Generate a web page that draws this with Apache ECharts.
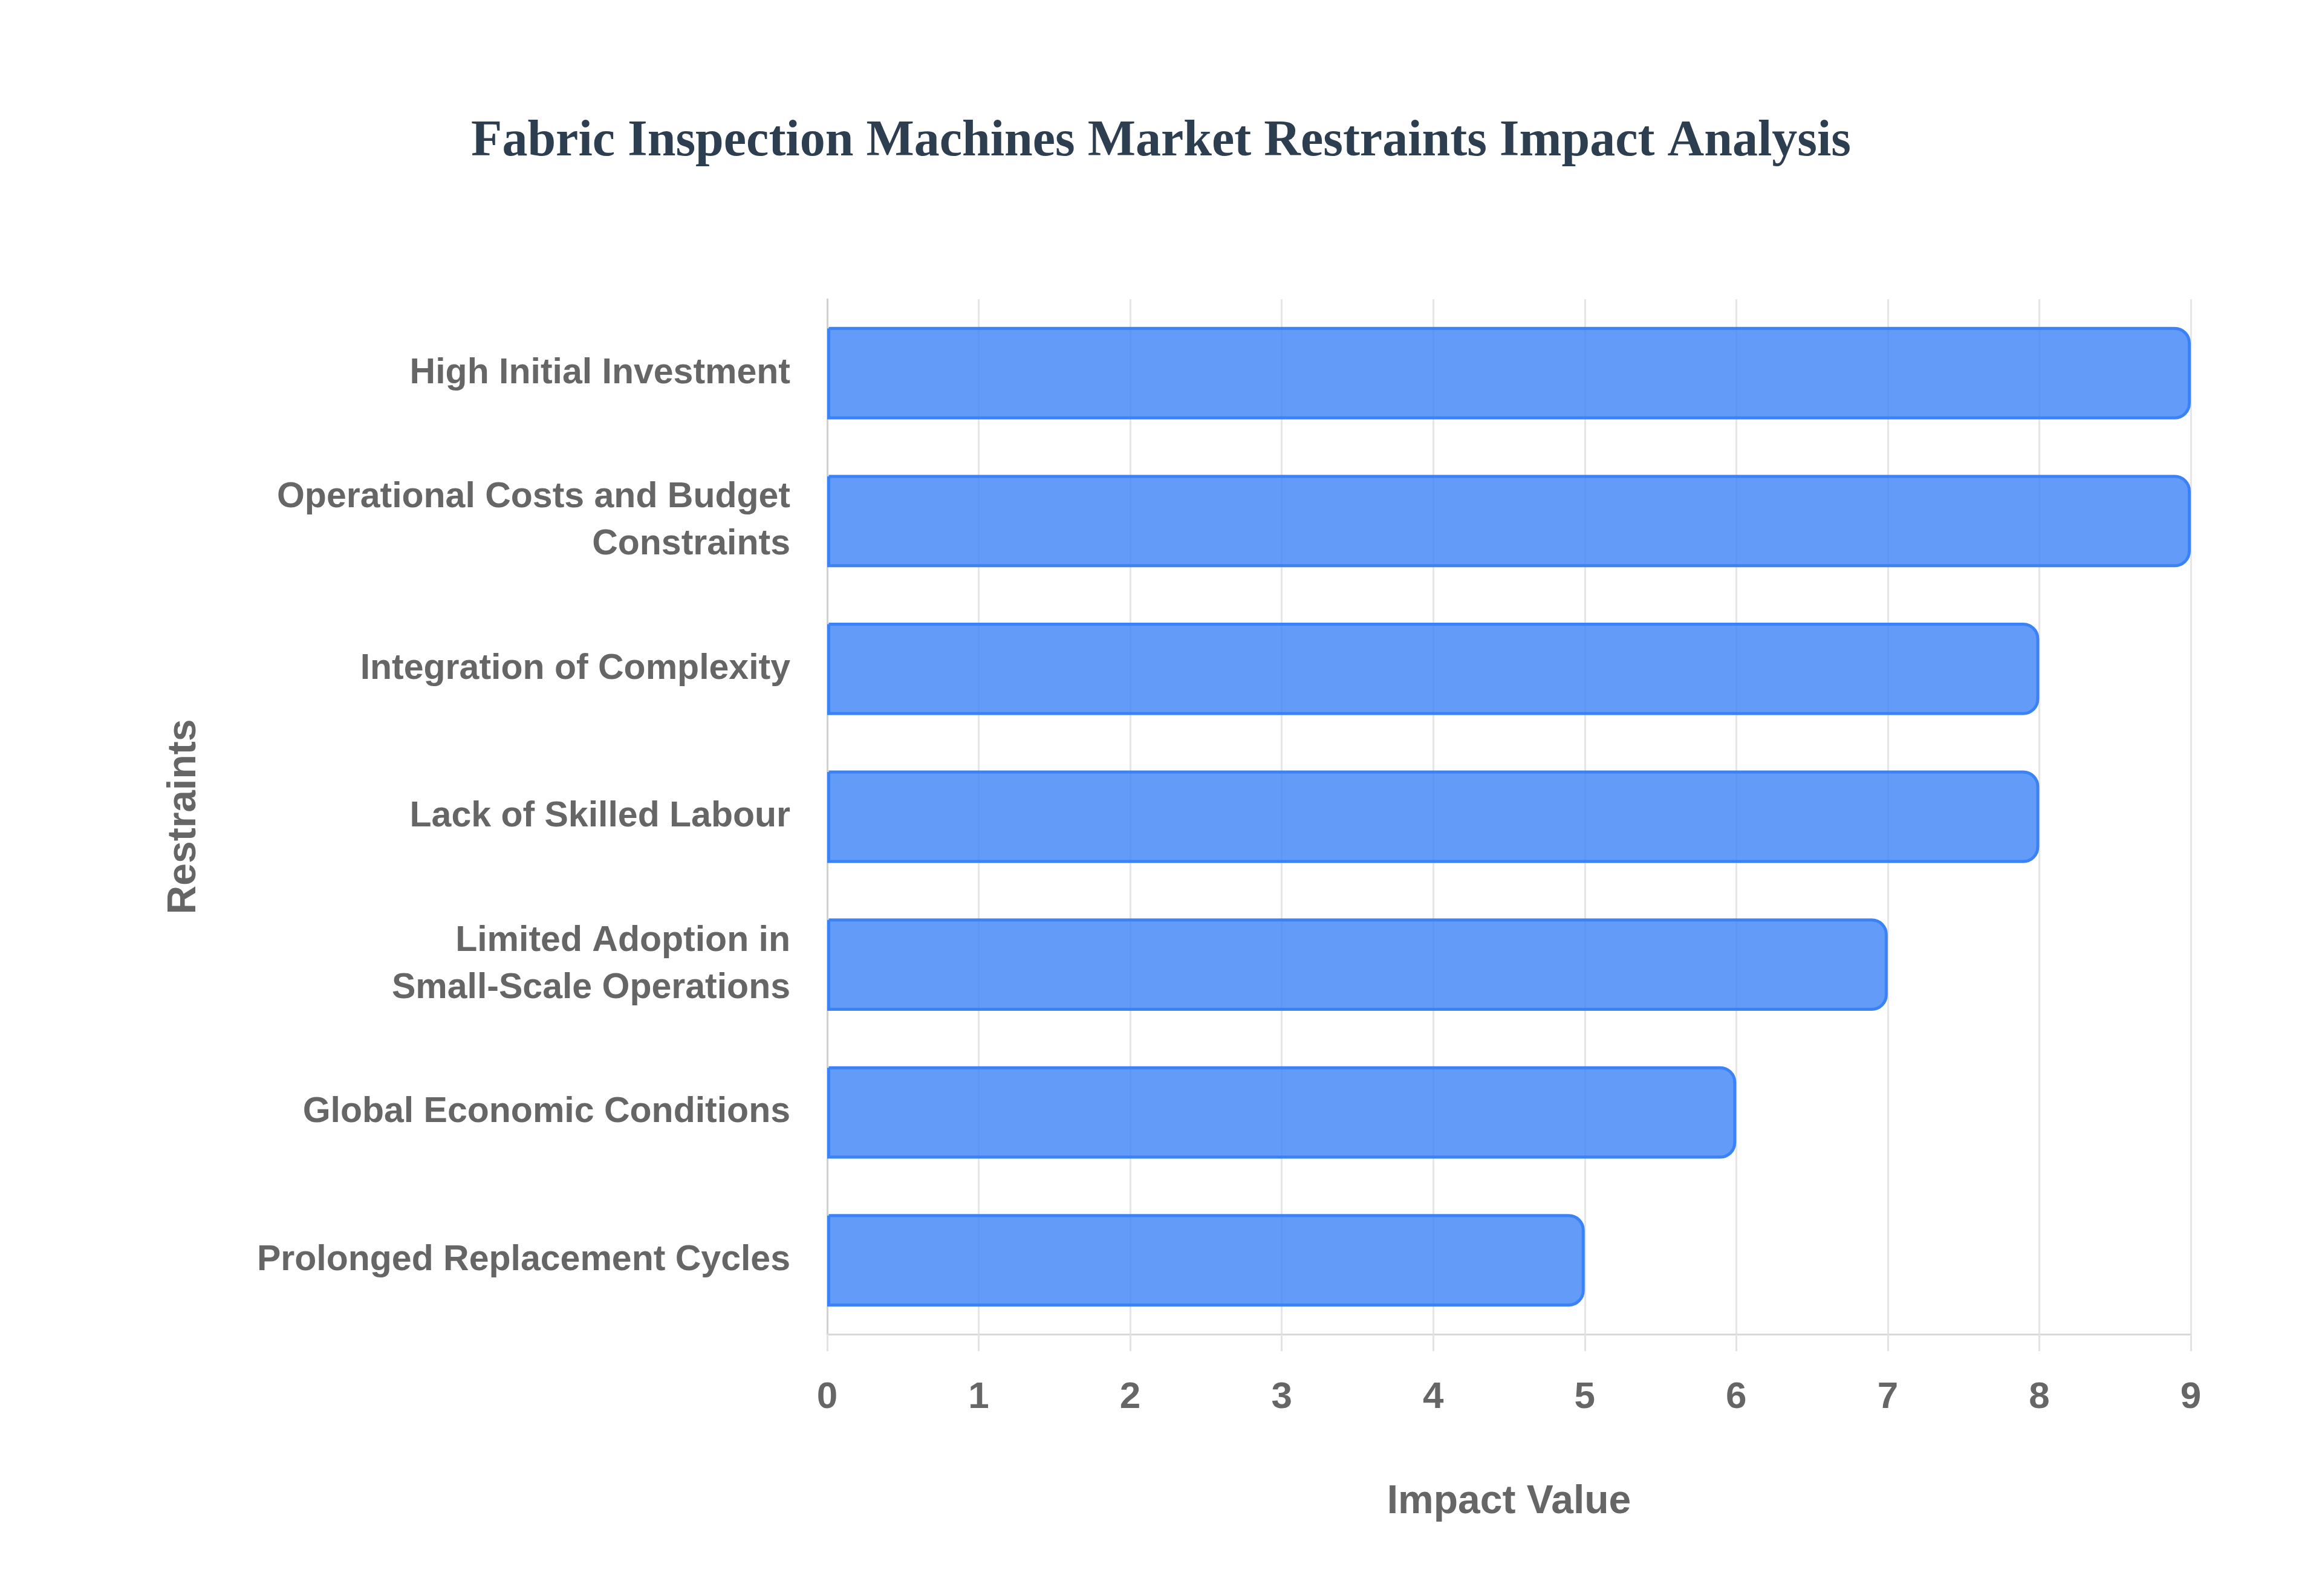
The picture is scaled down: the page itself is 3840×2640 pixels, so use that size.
<!DOCTYPE html>
<html>
<head>
<meta charset="utf-8">
<script src="https://cdn.jsdelivr.net/npm/echarts@6/dist/echarts.min.js"></script>
<style>
html,body{margin:0;padding:0;background:#fff;}
#chart{width:3840px;height:2640px;}
</style>
</head>
<body>
<div id="chart"></div>
<script>
const categories = [
  "High Initial Investment",
  "Operational Costs and Budget\nConstraints",
  "Integration of Complexity",
  "Lack of Skilled Labour",
  "Limited Adoption in\nSmall-Scale Operations",
  "Global Economic Conditions",
  "Prolonged Replacement Cycles"
];
const impactValues = [9, 9, 8, 8, 7, 6, 5];
const titleText = "Fabric Inspection Machines Market Restraints Impact Analysis";
const xAxisName = "Impact Value";
const yAxisName = "Restraints";

const chart = echarts.init(document.getElementById('chart'), null, {renderer: 'canvas'});
const labelFont = '"Liberation Sans", Arial, sans-serif';
chart.setOption({
  animation: false,
  backgroundColor: '#ffffff',
  title: {
    text: titleText,
    left: 'center',
    top: 193,
    padding: 0,
    textStyle: {
      fontFamily: '"Liberation Serif", "Times New Roman", serif',
      fontWeight: 'bold',
      fontSize: 84,
      color: '#2c3e50'
    }
  },
  grid: {left: 1368, right: 217, top: 495, bottom: 433, containLabel: false},
  xAxis: {
    type: 'value',
    min: 0,
    max: 9,
    interval: 1,
    name: xAxisName,
    nameLocation: 'middle',
    nameGap: 245,
    nameTextStyle: {fontFamily: labelFont, fontWeight: 'bold', fontSize: 66, color: '#666666'},
    axisLine: {show: true, lineStyle: {color: '#d9d9d9', width: 3}},
    axisTick: {show: true, length: 28, lineStyle: {color: '#e3e3e3', width: 3}},
    axisLabel: {margin: 74, fontFamily: labelFont, fontWeight: 'bold', fontSize: 62, color: '#666666'},
    splitLine: {show: true, lineStyle: {color: '#e6e6e6', width: 3}}
  },
  yAxis: {
    type: 'category',
    data: categories,
    inverse: true,
    name: yAxisName,
    nameLocation: 'middle',
    nameGap: 1030,
    nameTextStyle: {fontFamily: labelFont, fontWeight: 'bold', fontSize: 66, color: '#666666'},
    axisLine: {show: true, lineStyle: {color: '#d0d0d0', width: 3}},
    axisTick: {show: false},
    axisLabel: {margin: 61, fontFamily: labelFont, fontWeight: 'bold', fontSize: 59, color: '#666666', lineHeight: 78, align: 'right'},
    splitLine: {show: false}
  },
  series: [{
    type: 'bar',
    data: impactValues,
    barCategoryGap: '37.5%',
    itemStyle: {
      color: 'rgba(59,130,246,0.8)',
      borderColor: '#3b82f6',
      borderWidth: 5,
      borderRadius: [0, 24, 24, 0]
    }
  }]
});
</script>
</body>
</html>
